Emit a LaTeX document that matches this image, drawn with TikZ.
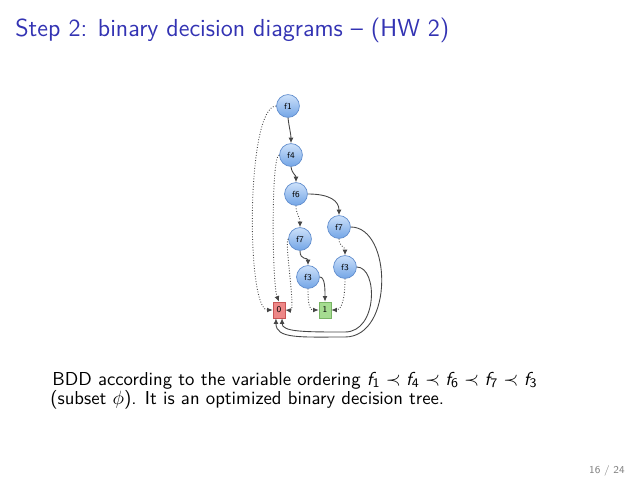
\documentclass[tikz,border=0pt]{standalone}
\usepackage{fontspec}
\usepackage{xcolor}
\usepackage{tikz}
\usetikzlibrary{calc,arrows.meta}

\definecolor{titleblue}{RGB}{51,51,179}
\definecolor{nodetop}{RGB}{205,225,250}
\definecolor{nodebot}{RGB}{115,165,230}
\definecolor{nodeline}{RGB}{95,140,205}
\definecolor{zerofill}{RGB}{238,135,135}
\definecolor{zeroline}{RGB}{200,85,85}
\definecolor{onefill}{RGB}{165,220,145}
\definecolor{oneline}{RGB}{120,180,100}
\definecolor{edge}{RGB}{70,70,70}

\newcommand{\fv}[1]{\textsf{\slshape f}_{\mathsf{#1}}}

\begin{document}
\begin{tikzpicture}[x=0.5688pt,y=0.5688pt,
    var/.style={circle,draw=nodeline,top color=nodetop,bottom color=nodebot,
      minimum size=13pt,inner sep=0pt,font=\fontsize{5}{6}\sffamily},
    term/.style={rectangle,minimum width=6.8pt,minimum height=9.1pt,
      inner sep=0pt,font=\fontsize{5}{6}\sffamily},
    hi/.style={draw=edge,line width=0.5pt,-{Latex[length=3.2pt,width=2.8pt]}},
    lo/.style={hi,densely dotted},
    txt/.style={anchor=base west,inner sep=0pt,font=\fontsize{10.65}{13}\sffamily}]
    \useasboundingbox (0,0) rectangle (638,479);

    \node[anchor=base west,inner sep=0pt,font=\fontsize{14}{16}\sffamily,text=titleblue]
      (title) at (15,442) {Step 2: binary decision diagrams -- (HW 2)};

    \node[var] (f1) at (288,373) {f1};
    \node[var] (f4) at ($(f1)+(3,-49)$) {f4};
    \node[var] (f6) at ($(f4)+(5,-39)$) {f6};
    \node[var] (f7a) at ($(f6)+(4,-45)$) {f7};
    \node[var] (f7b) at ($(f6)+(43,-33)$) {f7};
    \node[var] (f3a) at ($(f7a)+(8,-38)$) {f3};
    \node[var] (f3b) at ($(f7b)+(6,-40)$) {f3};
    \node[term,draw=zeroline,fill=zerofill] (zero) at (279,169) {0};
    \node[term,draw=oneline,fill=onefill] (one) at ($(zero)+(46,0)$) {1};

    \draw[hi] (f1.south) .. controls (289,352) and (291,345) .. (f4.north);
    \draw[lo] (f1.west) .. controls (246,373) and (246,169) .. (zero.west);
    \draw[hi] (f4.south) .. controls (292,305) and (296,304) .. (f6.north);
    \draw[lo] (f4.west) .. controls (271,324) and (272,195) .. (zero.north);
    \draw[lo] (f6.south) .. controls (296,265) and (300,262) .. (f7a.north);
    \draw[hi] (f6.east) .. controls (330,285) and (339,278) .. (f7b.north);
    \draw[hi] (f7a.south) .. controls (300,218) and (308,222) .. (f3a.north);
    \draw[lo] (f7a.west) .. controls (284,238) and (296,168) .. (zero.east);
    \draw[lo] (f7b.south) .. controls (339,232) and (345,233) .. (f3b.north);
    \draw[hi] (f7b.east) .. controls (392,252) and (394,142) .. (345,142)
      .. controls (300,142) and (276,140) .. (zero.-110);
    \draw[hi] (f3b.east) .. controls (378,212) and (378,147) .. (345,147)
      .. controls (305,147) and (282,147) .. (zero.-70);
    \draw[hi] (f3a.east) .. controls (325,202) and (325,190) .. (one.north);
    \draw[lo] (f3a.south) .. controls (308,172) and (310,169) .. (one.west);
    \draw[lo] (f3b.south) .. controls (345,175) and (340,169) .. (one.east);

    \node[txt] (line1) at (52,94)
      {BDD according to the variable ordering $\fv1 \prec \fv4 \prec \fv6 \prec \fv7 \prec \fv3$};
    \node[txt] (line2) at (50,75)
      {(subset $\phi$). It is an optimized binary decision tree.};

    \node[anchor=base east,inner sep=0pt,font=\fontsize{6}{7}\sffamily,text=gray]
      (page) at (625,6) {16 / 24};
\end{tikzpicture}
\end{document}
